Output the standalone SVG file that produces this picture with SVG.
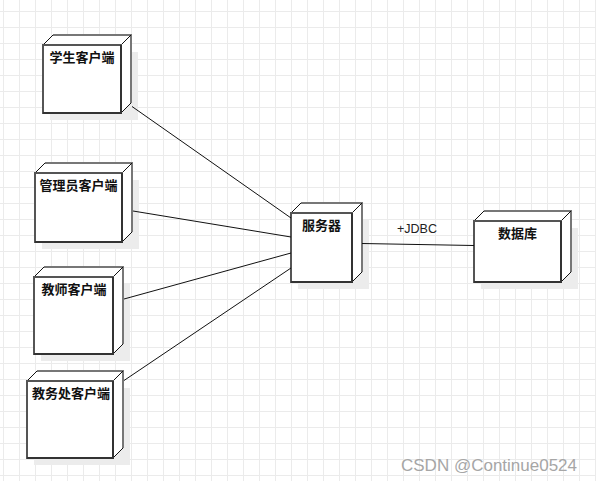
<svg xmlns="http://www.w3.org/2000/svg" width="596" height="481" viewBox="0 0 596 481">
<defs>
<pattern id="grid" width="16" height="16" patternUnits="userSpaceOnUse" x="3" y="11">
<rect x="0" y="0" width="1" height="16" fill="#ebebeb"/>
<rect x="0" y="0" width="16" height="1" fill="#ebebeb"/>
</pattern>
</defs>
<style>
.shadow{fill:#ececec;stroke:none}
.face{fill:#ffffff;stroke:none}
.back{fill:none;stroke:#777777;stroke-width:2}
.front{fill:#ffffff;stroke:#555555;stroke-width:2}
.frontdark{fill:none;stroke:#333333;stroke-width:2}
.diag{fill:none;stroke:#111111;stroke-width:1}
.lbl{font-family:"Noto Sans CJK SC","Liberation Sans",sans-serif;font-size:13px;font-weight:bold;fill:#111111;text-anchor:middle}
.conn{stroke:#111111;stroke-width:1;fill:none}
.clbl{font-family:"Liberation Sans",Arial,sans-serif;font-size:12.5px;fill:#222222}
.wm{font-family:"Liberation Sans",Arial,sans-serif;font-size:17px;fill:#a6a6a6}
</style>
<rect x="0" y="0" width="596" height="481" fill="#ffffff"/>
<rect x="0" y="0" width="596" height="481" fill="url(#grid)"/>

<g id="node-student">
<path class="shadow" d="M50,52 H138 V120 H50 Z"/>
<path class="face" d="M43,45 L53,35 H131 V103 L121,113 Z"/>
<path class="back" d="M53,35 H131 V103"/>
<path class="diag" d="M43,45 L53,35 M121,45 L131,35 M121,113 L131,103"/>
<rect class="front" x="43" y="45" width="78" height="68"/>
<path class="frontdark" d="M121,45 V113 H43"/>
<text class="lbl" x="82" y="62">学生客户端</text>
</g>

<g id="node-admin">
<path class="shadow" d="M42,180 H139 V249 H42 Z"/>
<path class="face" d="M35,173 L45,163 H132 V232 L122,242 Z"/>
<path class="back" d="M45,163 H132 V232"/>
<path class="diag" d="M35,173 L45,163 M122,173 L132,163 M122,242 L132,232"/>
<rect class="front" x="35" y="173" width="87" height="69"/>
<path class="frontdark" d="M122,173 V242 H35"/>
<text class="lbl" x="78.5" y="189.5">管理员客户端</text>
</g>

<g id="node-teacher">
<path class="shadow" d="M41,284 H130 V361 H41 Z"/>
<path class="face" d="M34,277 L44,267 H123 V344 L113,354 Z"/>
<path class="back" d="M44,267 H123 V344"/>
<path class="diag" d="M34,277 L44,267 M113,277 L123,267 M113,354 L123,344"/>
<rect class="front" x="34" y="277" width="79" height="77"/>
<path class="frontdark" d="M113,277 V354 H34"/>
<text class="lbl" x="74" y="294">教师客户端</text>
</g>

<g id="node-office">
<path class="shadow" d="M34,388 H130 V465 H34 Z"/>
<path class="face" d="M27,381 L37,371 H123 V448 L113,458 Z"/>
<path class="back" d="M37,371 H123 V448"/>
<path class="diag" d="M27,381 L37,371 M113,381 L123,371 M113,458 L123,448"/>
<rect class="front" x="27" y="381" width="86" height="77"/>
<path class="frontdark" d="M113,381 V458 H27"/>
<text class="lbl" x="71" y="398">教务处客户端</text>
</g>

<g id="node-server">
<path class="shadow" d="M298,220 H369 V289 H298 Z"/>
<path class="face" d="M291,213 L301,203 H362 V272 L352,282 Z"/>
<path class="back" d="M301,203 H362 V272"/>
<path class="diag" d="M291,213 L301,203 M352,213 L362,203 M352,282 L362,272"/>
<rect class="front" x="291" y="213" width="61" height="69"/>
<path class="frontdark" d="M352,213 V282 H291"/>
<text class="lbl" x="321.5" y="230">服务器</text>
</g>

<g id="node-db">
<path class="shadow" d="M481,228 H578 V289 H481 Z"/>
<path class="face" d="M474,221 L484,211 H571 V272 L561,282 Z"/>
<path class="back" d="M484,211 H571 V272"/>
<path class="diag" d="M474,221 L484,211 M561,221 L571,211 M561,282 L571,272"/>
<rect class="front" x="474" y="221" width="87" height="61"/>
<path class="frontdark" d="M561,221 V282 H474"/>
<text class="lbl" x="517.5" y="238">数据库</text>
</g>

<g id="connectors">
<line class="conn" x1="132" y1="106.5" x2="291" y2="218"/>
<line class="conn" x1="133" y1="211" x2="291" y2="237"/>
<line class="conn" x1="124" y1="299" x2="291" y2="253"/>
<line class="conn" x1="124" y1="380.5" x2="291" y2="268"/>
<line class="conn" x1="362" y1="243.5" x2="474" y2="245.5"/>
<text class="clbl" x="397" y="233">+JDBC</text>
</g>

<text class="wm" x="401" y="471">CSDN @Continue0524</text>
</svg>
